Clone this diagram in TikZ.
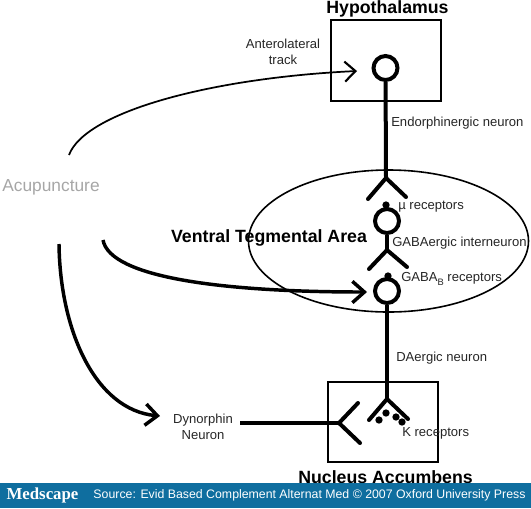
\documentclass[tikz,border=0pt]{standalone}
\usepackage{fontspec}
\setmainfont{Liberation Sans}
\newfontfamily\logofont{Liberation Serif}
\usetikzlibrary{shapes.geometric, arrows.meta, positioning}
\definecolor{bannerblue}{HTML}{0F6E9F}
\definecolor{acugray}{HTML}{A6A6A6}
\tikzstyle{region} = [rectangle, draw=black, line width=1.2pt, inner sep=0pt, outer sep=0pt, anchor=north west]
\tikzstyle{soma} = [circle, draw=black, line width=3pt, fill=white, minimum size=18pt, inner sep=0pt]
\tikzstyle{axon} = [line width=3pt]
\tikzstyle{dendrite} = [line width=3pt, line cap=round]
\tikzstyle{spot} = [circle, fill=black, minimum size=5.5pt, inner sep=0pt]
\tikzstyle{label} = [font=\fontsize{9.8pt}{12pt}\selectfont, text=black!85, align=center, inner sep=0pt]
\tikzstyle{title} = [font=\bfseries\fontsize{13.3pt}{15pt}\selectfont, inner sep=0pt]
\tikzstyle{thin arrow} = [line width=1.3pt,-{Straight Barb[length=8pt,width=15pt,line width=1.6pt]}]
\tikzstyle{thick arrow} = [line width=2.6pt,-{Straight Barb[length=9pt,width=16pt,line width=2.6pt]}]
\begin{document}
\begin{tikzpicture}[x=0.75pt, y=-0.75pt]
  \useasboundingbox (0,0) rectangle (531,508);

  % Regions
  \node[region, minimum width=82.5pt, minimum height=60.75pt] (hypothalamus) at (331,20) {};
  \node[region, minimum width=82.5pt, minimum height=60pt] (accumbens) at (328,382) {};
  \node[ellipse, draw=black, line width=1.2pt, minimum width=210pt, minimum height=106.5pt, inner sep=0pt] (vta) at (388.5,241) {};
  \node[title] (hypoTitle) at (387.5,9) {Hypothalamus};
  \node[title] (accTitle) at (385.5,477) {Nucleus Accumbens};
  \node[title] (vtaTitle) at (269,238) {Ventral Tegmental Area};

  % Banner
  \fill[bannerblue] (0,483) rectangle (531,508);
  \node[font=\logofont\bfseries\fontsize{12.6pt}{14pt}\selectfont, text=white, inner sep=0pt] (medscape) at (42.5,495.5) {Medscape};
  \node[font=\fontsize{9.24pt}{10pt}\selectfont, text=white, inner sep=0pt] (source) at (309.5,495.5) {Source: Evid Based Complement Alternat Med \textcopyright\ 2007 Oxford University Press};

  % Neurons
  \node[soma] (endoSoma) at (385.5,68) {};
  \node[soma] (gabaSoma) at (387,221) {};
  \node[soma] (daSoma) at (387,291) {};
  \coordinate (muFork) at (386,178);
  \coordinate (gabaFork) at (387,250);
  \coordinate (kappaFork) at (387,399);
  \coordinate (dynFork) at (339,423);
  \coordinate (dynStart) at (240,423);
  \draw[axon] (endoSoma) -- (muFork);
  \draw[axon] (gabaSoma) -- (gabaFork);
  \draw[axon] (daSoma) -- (kappaFork);
  \draw[axon] (dynStart) -- (dynFork);
  \draw[dendrite] (368,199) -- (muFork) -- (406,197);
  \draw[dendrite] (369,269) -- (gabaFork) -- (407,267);
  \draw[dendrite] (369,420) -- (kappaFork) -- (408,419);
  \draw[dendrite] (358,403) -- (dynFork) -- (360,443);

  % Receptors
  \node[spot] (muSpot) at (386,205) {};
  \node[spot] (gabaSpot) at (388,276) {};
  \node[spot] (kappaA) at (379,420) {};
  \node[spot] (kappaB) at (386,413) {};
  \node[spot] (kappaC) at (396,417) {};
  \node[spot] (kappaD) at (402,422) {};

  % Labels
  \node[label] (track) at (283,52) {Anterolateral\\track};
  \node[label, anchor=west] (endoLabel) at (391,123.5) {Endorphinergic neuron};
  \node[label, anchor=west] (muLabel) at (398,206.5) {µ receptors};
  \node[label, anchor=west] (gabaLabel) at (392,243) {GABAergic interneuron};
  \node[label, anchor=west] (gababLabel) at (401,279) {GABA\raisebox{-2.5pt}{\fontsize{7pt}{8pt}\selectfont B} receptors};
  \node[label, anchor=west] (daLabel) at (396,358) {DAergic neuron};
  \node[label] (dynorphin) at (203,426.5) {Dynorphin\\Neuron};
  \node[label, anchor=west] (kappaLabel) at (402,433) {K receptors};
  \node[font=\fontsize{13pt}{15pt}\selectfont, text=acugray, inner sep=0pt] (acupuncture) at (51,187.5) {Acupuncture};

  % Pathways
  \coordinate (trackStart) at (69,155);
  \coordinate (trackEnd) at (357,71);
  \coordinate (vtaStart) at (103,240);
  \coordinate (vtaEnd) at (367,292);
  \coordinate (dynIn) at (59,244);
  \coordinate (dynEnd) at (160,416);
  \draw[thin arrow] (trackStart) .. controls (85,112) and (210,78) .. (trackEnd);
  \draw[thick arrow] (vtaStart) .. controls (110,278) and (225,292) .. (vtaEnd);
  \draw[thick arrow] (dynIn) .. controls (60,330) and (95,410) .. (dynEnd);
\end{tikzpicture}
\end{document}
